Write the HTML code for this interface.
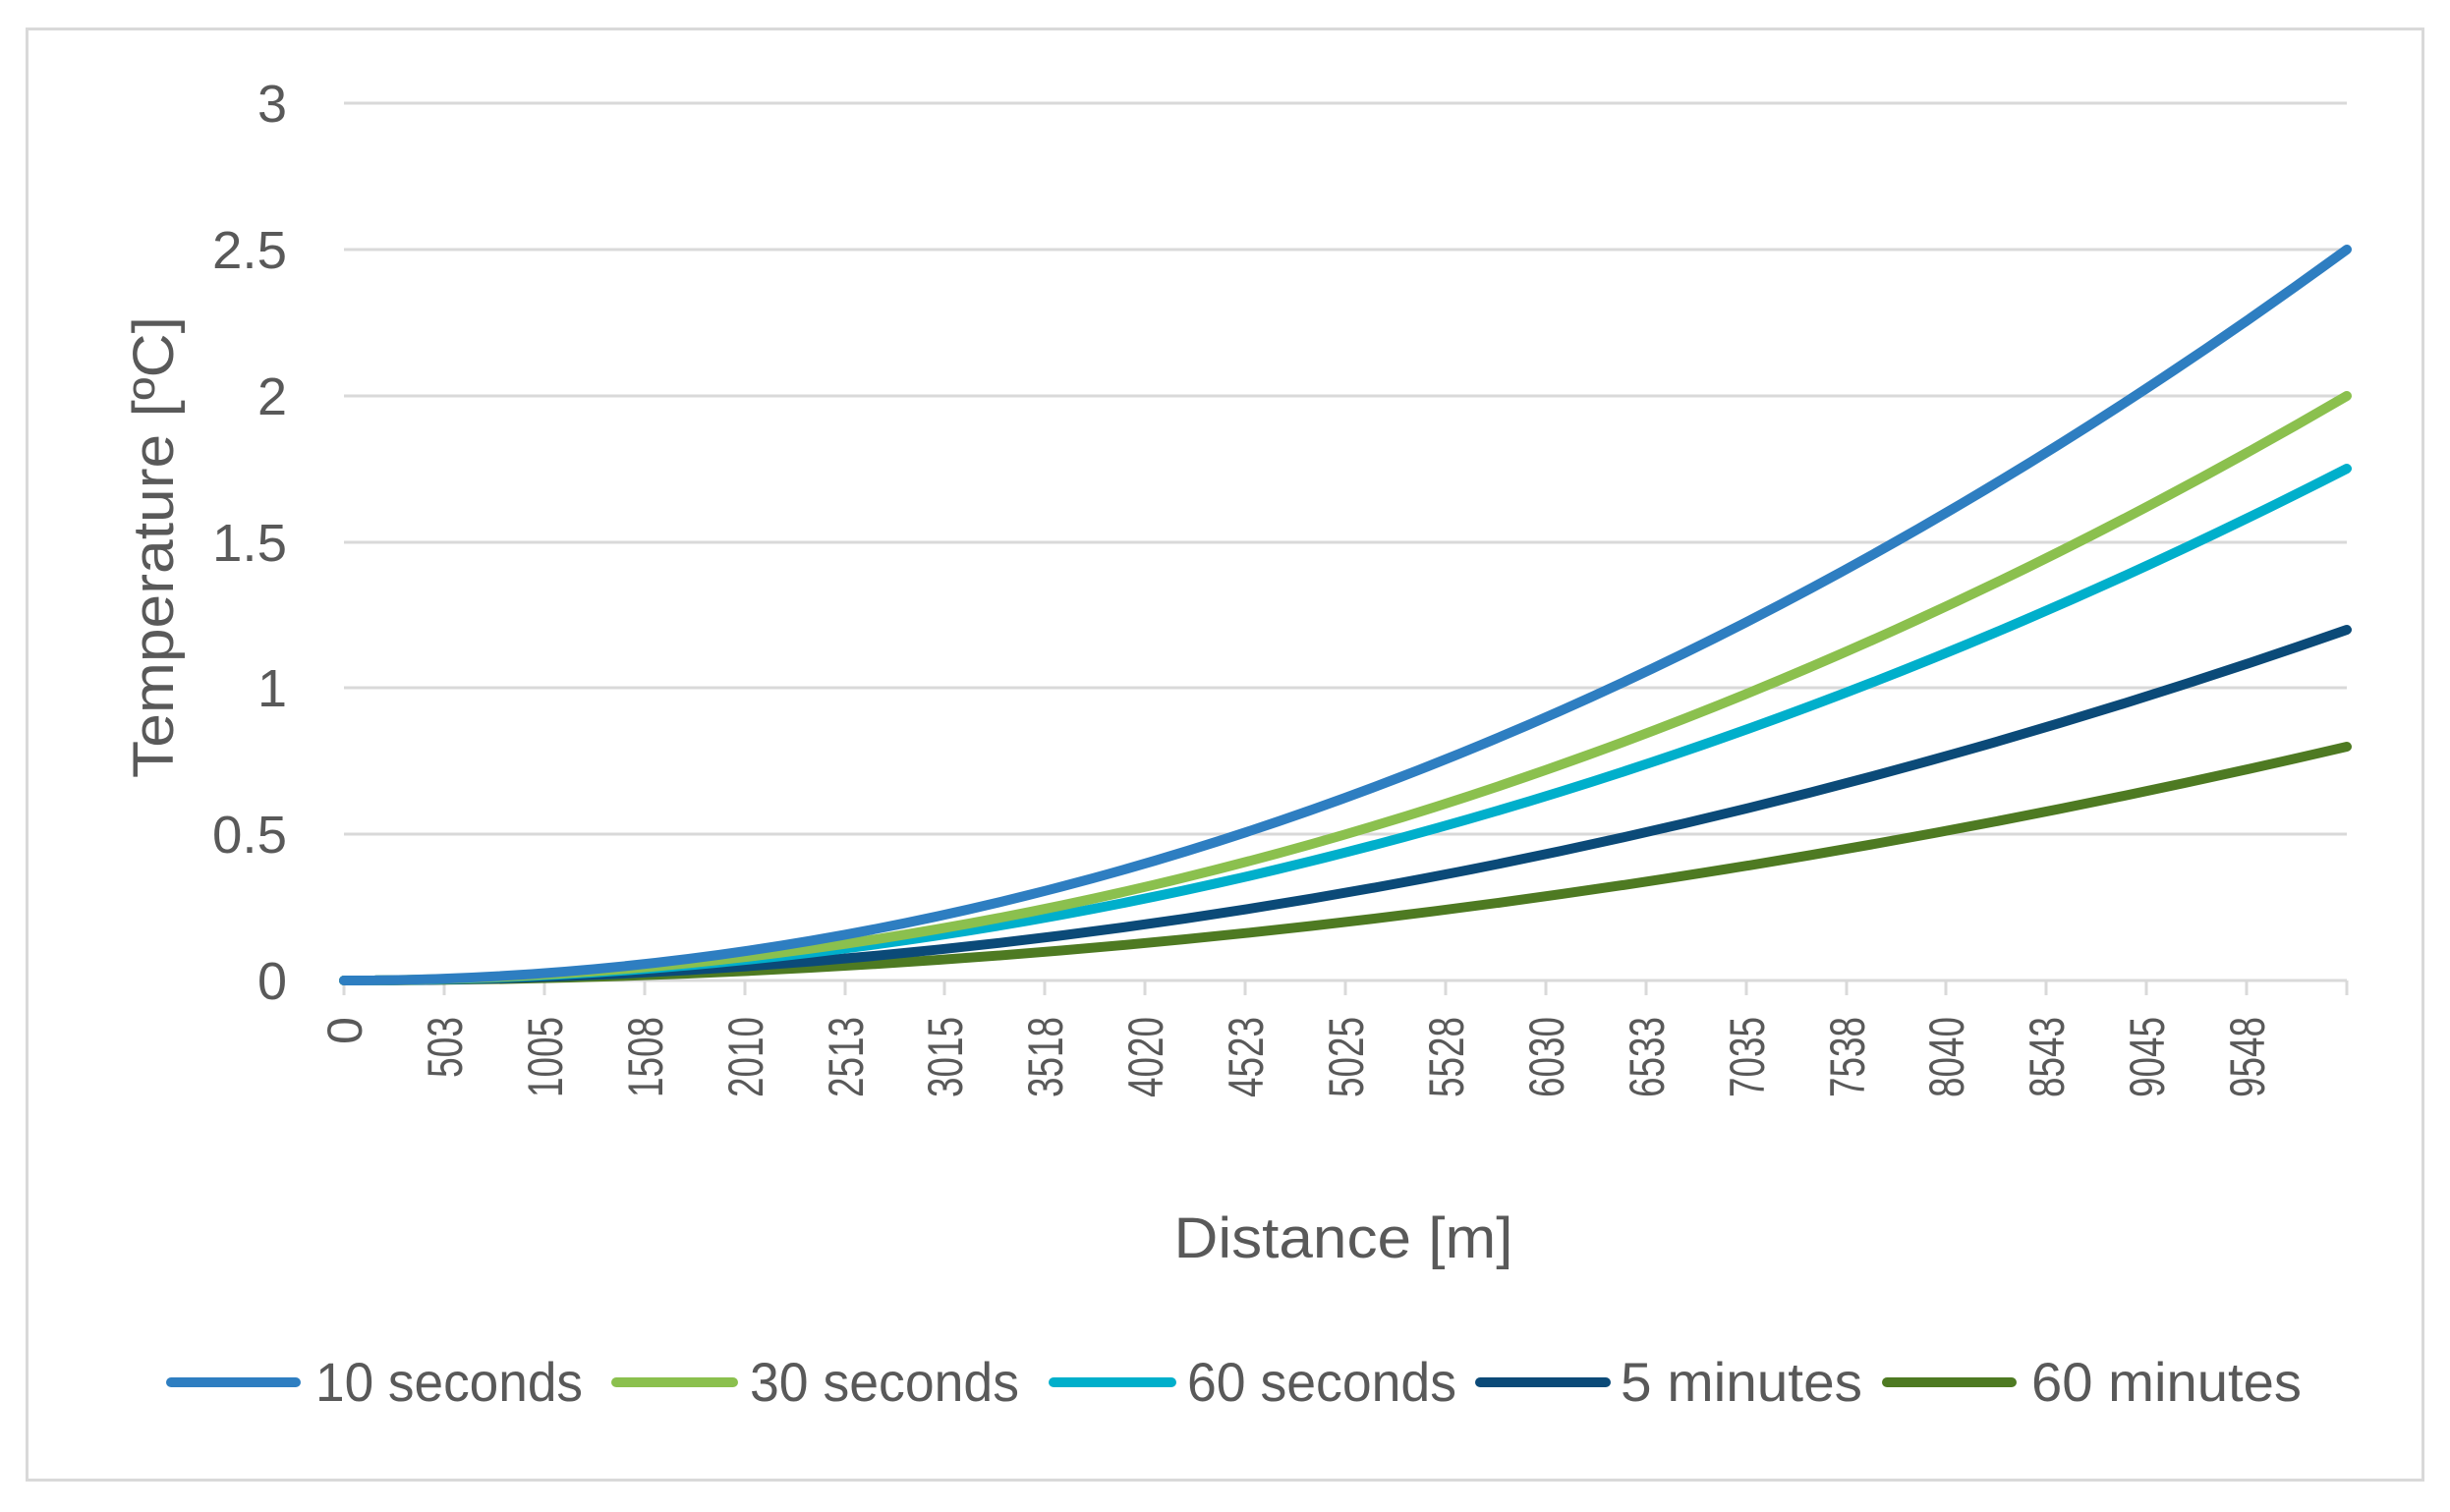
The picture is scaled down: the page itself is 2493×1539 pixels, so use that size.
<!DOCTYPE html>
<html><head><meta charset="utf-8"><style>html,body{margin:0;padding:0;background:#fff}svg{display:block}</style></head>
<body>
<svg width="2493" height="1539" viewBox="0 0 2493 1539" xmlns="http://www.w3.org/2000/svg" font-family="Liberation Sans, sans-serif" fill="#595959">
<rect x="0" y="0" width="2493" height="1539" fill="#fff"/>
<rect x="27.5" y="29.5" width="2438" height="1477" fill="none" stroke="#d9d9d9" stroke-width="3"/>
<g stroke="#d9d9d9" stroke-width="3">
<line x1="350" y1="105" x2="2388" y2="105"/>
<line x1="350" y1="254" x2="2388" y2="254"/>
<line x1="350" y1="403" x2="2388" y2="403"/>
<line x1="350" y1="552" x2="2388" y2="552"/>
<line x1="350" y1="700" x2="2388" y2="700"/>
<line x1="350" y1="849" x2="2388" y2="849"/>
<line x1="350" y1="998" x2="2388" y2="998"/>
<line x1="350" y1="998" x2="350" y2="1013"/><line x1="452" y1="998" x2="452" y2="1013"/><line x1="554" y1="998" x2="554" y2="1013"/><line x1="656" y1="998" x2="656" y2="1013"/><line x1="758" y1="998" x2="758" y2="1013"/><line x1="860" y1="998" x2="860" y2="1013"/><line x1="961" y1="998" x2="961" y2="1013"/><line x1="1063" y1="998" x2="1063" y2="1013"/><line x1="1165" y1="998" x2="1165" y2="1013"/><line x1="1267" y1="998" x2="1267" y2="1013"/><line x1="1369" y1="998" x2="1369" y2="1013"/><line x1="1471" y1="998" x2="1471" y2="1013"/><line x1="1573" y1="998" x2="1573" y2="1013"/><line x1="1675" y1="998" x2="1675" y2="1013"/><line x1="1777" y1="998" x2="1777" y2="1013"/><line x1="1879" y1="998" x2="1879" y2="1013"/><line x1="1980" y1="998" x2="1980" y2="1013"/><line x1="2082" y1="998" x2="2082" y2="1013"/><line x1="2184" y1="998" x2="2184" y2="1013"/><line x1="2286" y1="998" x2="2286" y2="1013"/><line x1="2388" y1="998" x2="2388" y2="1013"/>
</g>
<g font-size="54" text-anchor="end">
<text x="292" y="124">3</text>
<text x="292" y="273" textLength="76" lengthAdjust="spacingAndGlyphs">2.5</text>
<text x="292" y="422">2</text>
<text x="292" y="571" textLength="76" lengthAdjust="spacingAndGlyphs">1.5</text>
<text x="292" y="719">1</text>
<text x="292" y="868" textLength="76" lengthAdjust="spacingAndGlyphs">0.5</text>
<text x="292" y="1017">0</text>
</g>
<g font-size="50" text-anchor="end">
<text transform="translate(368,1035) rotate(-90)" textLength="28" lengthAdjust="spacingAndGlyphs">0</text>
<text transform="translate(470,1035) rotate(-90)" textLength="62" lengthAdjust="spacingAndGlyphs">503</text>
<text transform="translate(572,1035) rotate(-90)" textLength="82" lengthAdjust="spacingAndGlyphs">1005</text>
<text transform="translate(674,1035) rotate(-90)" textLength="82" lengthAdjust="spacingAndGlyphs">1508</text>
<text transform="translate(776,1035) rotate(-90)" textLength="82" lengthAdjust="spacingAndGlyphs">2010</text>
<text transform="translate(878,1035) rotate(-90)" textLength="82" lengthAdjust="spacingAndGlyphs">2513</text>
<text transform="translate(979,1035) rotate(-90)" textLength="82" lengthAdjust="spacingAndGlyphs">3015</text>
<text transform="translate(1081,1035) rotate(-90)" textLength="82" lengthAdjust="spacingAndGlyphs">3518</text>
<text transform="translate(1183,1035) rotate(-90)" textLength="82" lengthAdjust="spacingAndGlyphs">4020</text>
<text transform="translate(1285,1035) rotate(-90)" textLength="82" lengthAdjust="spacingAndGlyphs">4523</text>
<text transform="translate(1387,1035) rotate(-90)" textLength="82" lengthAdjust="spacingAndGlyphs">5025</text>
<text transform="translate(1489,1035) rotate(-90)" textLength="82" lengthAdjust="spacingAndGlyphs">5528</text>
<text transform="translate(1591,1035) rotate(-90)" textLength="82" lengthAdjust="spacingAndGlyphs">6030</text>
<text transform="translate(1693,1035) rotate(-90)" textLength="82" lengthAdjust="spacingAndGlyphs">6533</text>
<text transform="translate(1795,1035) rotate(-90)" textLength="82" lengthAdjust="spacingAndGlyphs">7035</text>
<text transform="translate(1897,1035) rotate(-90)" textLength="82" lengthAdjust="spacingAndGlyphs">7538</text>
<text transform="translate(1998,1035) rotate(-90)" textLength="82" lengthAdjust="spacingAndGlyphs">8040</text>
<text transform="translate(2100,1035) rotate(-90)" textLength="82" lengthAdjust="spacingAndGlyphs">8543</text>
<text transform="translate(2202,1035) rotate(-90)" textLength="82" lengthAdjust="spacingAndGlyphs">9045</text>
<text transform="translate(2304,1035) rotate(-90)" textLength="82" lengthAdjust="spacingAndGlyphs">9548</text>
</g>
<text x="1367" y="1280" font-size="58" text-anchor="middle" textLength="345" lengthAdjust="spacingAndGlyphs">Distance [m]</text>
<text transform="translate(176,557) rotate(-90)" font-size="58" text-anchor="middle" textLength="470" lengthAdjust="spacingAndGlyphs">Temperature [ºC]</text>
<g fill="none" stroke-width="10" stroke-linecap="round">
<path d="M350 998 Q1369 998 2388 760" stroke="#4E7A22"/>
<path d="M350 998 Q1369 998 2388 641" stroke="#0B4A78"/>
<path d="M350 998 Q1369 998 2388 477" stroke="#00AFCB"/>
<path d="M350 998 Q1369 998 2388 403" stroke="#8BC04E"/>
<path d="M350 998 Q1369 998 2388 254" stroke="#2E7EC1"/>
</g>
<g stroke-width="10" stroke-linecap="round">
<line x1="174" y1="1407" x2="301" y2="1407" stroke="#2E7EC1"/>
<line x1="627" y1="1407" x2="746" y2="1407" stroke="#8BC04E"/>
<line x1="1072" y1="1407" x2="1192" y2="1407" stroke="#00AFCB"/>
<line x1="1506" y1="1407" x2="1634" y2="1407" stroke="#0B4A78"/>
<line x1="1920" y1="1407" x2="2047" y2="1407" stroke="#4E7A22"/>
</g>
<g font-size="56">
<text x="321" y="1426" textLength="272" lengthAdjust="spacingAndGlyphs">10 seconds</text>
<text x="763" y="1426" textLength="274" lengthAdjust="spacingAndGlyphs">30 seconds</text>
<text x="1208" y="1426" textLength="274" lengthAdjust="spacingAndGlyphs">60 seconds</text>
<text x="1649" y="1426" textLength="246" lengthAdjust="spacingAndGlyphs">5 minutes</text>
<text x="2067" y="1426" textLength="275" lengthAdjust="spacingAndGlyphs">60 minutes</text>
</g>
</svg>
</body></html>
